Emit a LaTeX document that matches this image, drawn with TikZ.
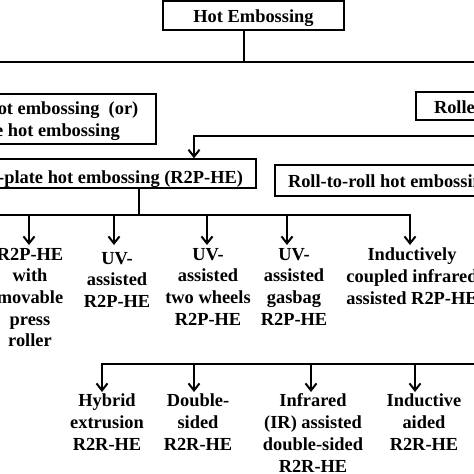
\documentclass[tikz,border=0pt]{standalone}
\usepackage{fontspec}
\setmainfont{Liberation Serif}
\usetikzlibrary{arrows.meta}
\begin{document}
\begin{tikzpicture}[x=1pt,y=-1pt,
  every node/.style={font=\fontsize{18.4}{21.7}\selectfont\bfseries},
  box/.style={draw, line width=2pt, inner ysep=0pt, text depth=0pt},
  lbl/.style={align=center, inner sep=0pt, anchor=north, execute at begin node=\strut},
  line/.style={line width=2pt},
  arr/.style={line width=2pt, -{Straight Barb[length=7pt,width=11pt]}}]
\useasboundingbox (0,0) rectangle (474,474);
\clip (0,0) rectangle (474,474);

% boxes
\node[box, minimum width=181pt, minimum height=29pt, text height=13pt] (hot) at (253.5,15.5) {Hot Embossing};
\node[draw, line width=2pt, minimum width=220pt, minimum height=50pt, anchor=north east, inner sep=0pt] (flat) at (157,93) {};
\node[anchor=base east, inner sep=0pt] (flat1) at (138.5,114) {ot embossing\ \ (or)};
\node[anchor=base east, inner sep=0pt] (flat2) at (120,136) {e hot embossing};
\node[box, anchor=west, inner xsep=18pt, minimum height=28pt, text height=14pt] (roll) at (415,106) {Roller};
\node[box, anchor=east, inner xsep=13pt, minimum height=29pt, text height=18.5pt] (r2p) at (257,173.8) {Roll-to-plate hot embossing (R2P-HE)};
\node[box, anchor=west, inner xsep=13pt, minimum height=31pt, text height=14pt] (r2r) at (274,180.5) {Roll-to-roll hot embossing (R2R-HE)};

% top bus
\coordinate (j0) at (244,62);
\coordinate (busAL) at (-5,62);
\coordinate (busAR) at (480,62);
\draw[line] (hot.south -| j0) -- (j0);
\draw[line] (busAL) -- (busAR);

% roller -> r2p
\coordinate (k0) at (480,135.5);
\coordinate (k1) at (194,135.5);
\draw[arr] (k0) -- (k1) -- (k1 |- r2p.north);

% r2p children
\coordinate (m0) at (139,214.5);
\coordinate (mL) at (-5,214.5);
\coordinate (t1) at (29,245);
\coordinate (t2) at (114,245);
\coordinate (t3) at (207,245);
\coordinate (t4) at (287,245);
\coordinate (t5) at (410,245);
\draw[line] (r2p.south -| m0) -- (m0);
\draw[arr] (mL) -- (t5 |- m0) -- (t5);
\foreach \t in {t1,t2,t3,t4} \draw[arr] (\t |- m0) -- (\t);

\node[lbl] (c1) at (30,247.8) {R2P-HE\\with\\movable\\press\\roller};
\node[lbl] (c2) at (117,251.8) {UV-\\assisted\\R2P-HE};
\node[lbl] (c3) at (208,247.8) {UV-\\assisted\\two wheels\\R2P-HE};
\node[lbl] (c4) at (294,247.8) {UV-\\assisted\\gasbag\\R2P-HE};
\node[lbl] (c5) at (412,247.8) {Inductively\\coupled infrared\\assisted R2P-HE};

% r2r children
\coordinate (n0) at (480,363.5);
\coordinate (u1) at (102,392);
\coordinate (u2) at (194,392);
\coordinate (u3) at (311,392);
\coordinate (u4) at (415,392);
\draw[arr] (n0) -- (u1 |- n0) -- (u1);
\foreach \u in {u2,u3,u4} \draw[arr] (\u |- n0) -- (\u);

\node[lbl] (d1) at (107,393.8) {Hybrid\\extrusion\\R2R-HE};
\node[lbl] (d2) at (198,393.8) {Double-\\sided\\R2R-HE};
\node[lbl] (d3) at (313,393.8) {Infrared\\(IR) assisted\\double-sided\\R2R-HE};
\node[lbl] (d4) at (424,393.8) {Inductive\\aided\\R2R-HE};
\end{tikzpicture}
\end{document}
